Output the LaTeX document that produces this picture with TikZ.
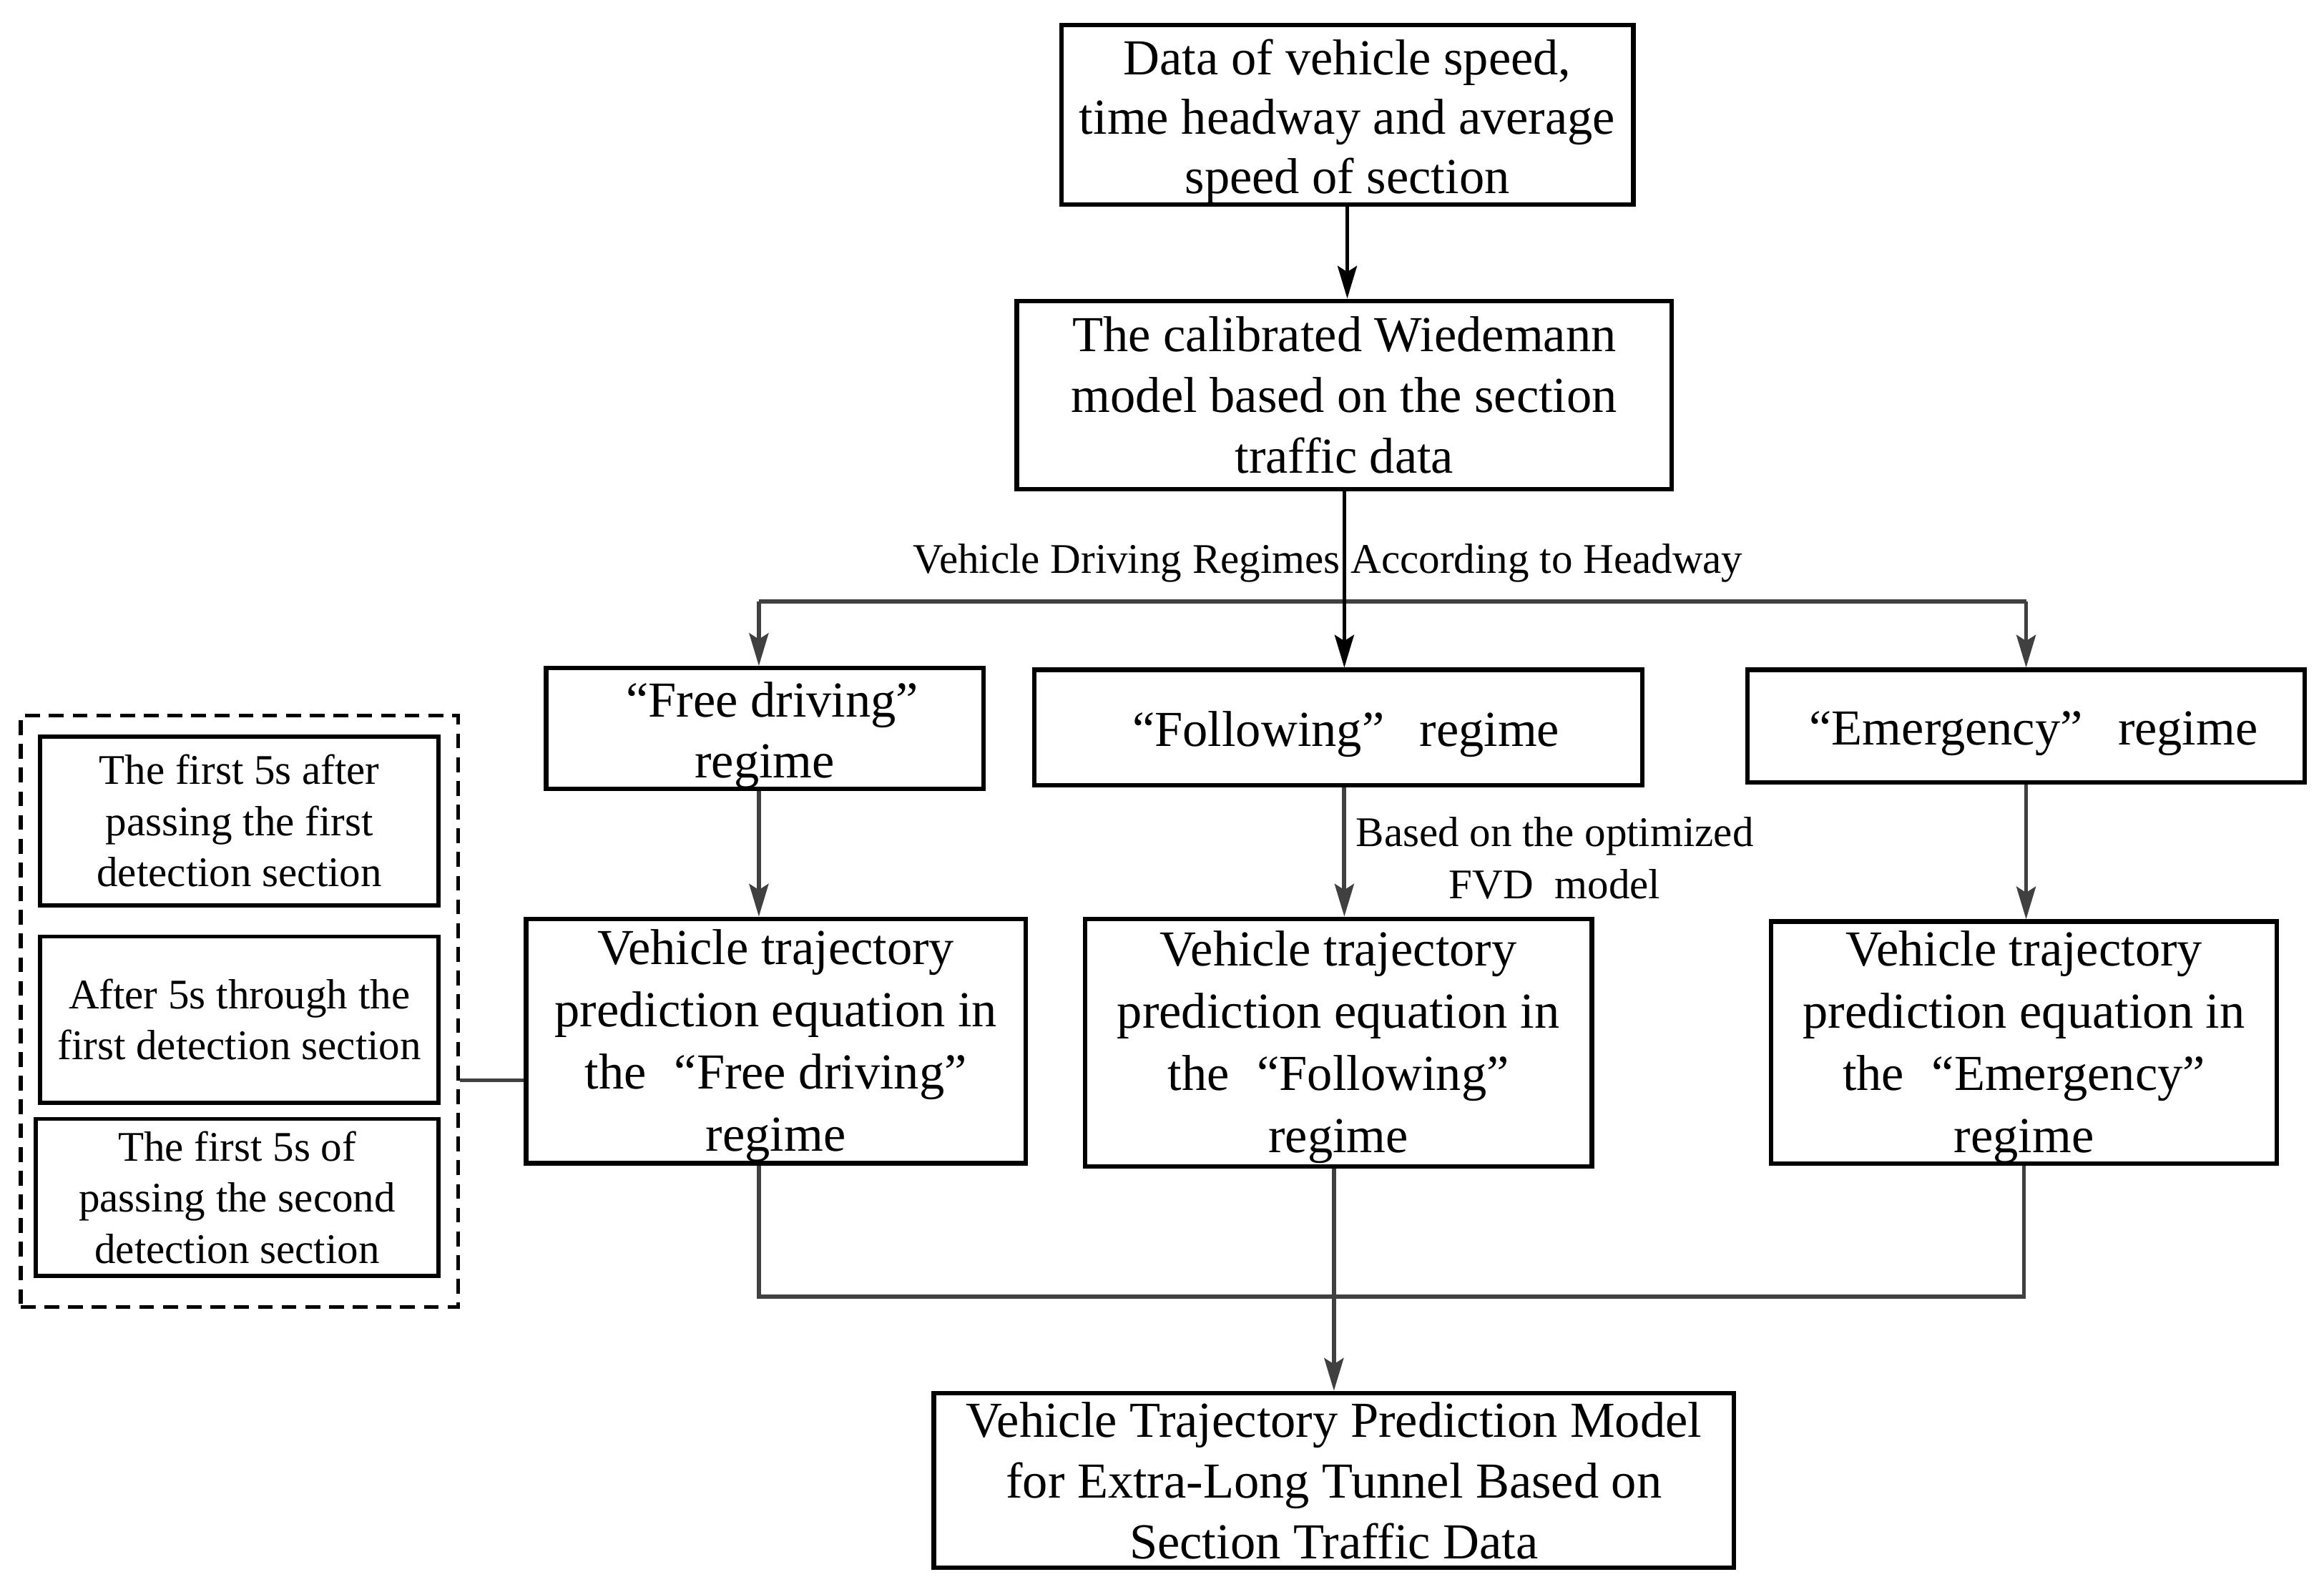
\documentclass[tikz,border=0pt]{standalone}
\usepackage{fontspec}
\setmainfont{Liberation Serif}
\usetikzlibrary{arrows.meta,calc}
\definecolor{ln}{HTML}{404040}
\newcommand{\myoq}{\hspace{0.3em}“}
\newcommand{\mycq}{”\hspace{0.45em}}
\begin{document}
\begin{tikzpicture}[x=1pt,y=-1pt,
  box/.style={draw=black,line width=3pt,align=center,inner sep=0pt,font=\fontsize{34}{41}\selectfont},
  sbox/.style={draw=black,line width=2.8pt,align=center,inner sep=0pt,font=\fontsize{28.5}{34.5}\selectfont},
  dim/.style 2 args={minimum width=#1pt,minimum height=#2pt},
  conn/.style={draw=ln,line width=2.8pt},
  arr/.style={conn,-{Stealth[length=22pt,width=13pt,inset=4pt]}},
  barr/.style={draw=black,line width=2.6pt,-{Stealth[length=22pt,width=13pt,inset=4pt]}},
  lbl/.style={font=\fontsize{28.5}{35}\selectfont,align=center,inner sep=0pt},
  dashbox/.style={draw=black,line width=2.5pt,dash pattern=on 10pt off 6pt}]
\useasboundingbox (0,0) rectangle (1568,1074);
\fill[white] (0,0) rectangle (1568,1074);

% main boxes
\node[box,dim={386}{121},font=\fontsize{34}{40}\selectfont] (top) at (909,77.5) {\rule{0pt}{33pt}Data of vehicle speed,\\time headway and average\\speed of section};
\node[box,dim={442}{127}] (wied) at (907,266.5) {The calibrated Wiedemann\\model based on the section\\traffic data};
\node[box,dim={295}{79}] (free) at (516,491.5) {\rule{0pt}{33pt}\myoq Free driving\mycq\\regime};
\node[box,dim={410}{78}] (foll) at (903,491) {\rule{0pt}{33pt}\myoq Following\mycq{} regime};
\node[box,dim={376}{76}] (emer) at (1367,490) {\rule{0pt}{33pt}\myoq Emergency\mycq{} regime};
\node[box,dim={337}{165},font=\fontsize{34}{42}\selectfont] (vt1) at (523.5,702.5) {\rule{0pt}{30pt}Vehicle trajectory\\prediction equation in\\the \myoq Free driving\mycq\\regime};
\node[box,dim={342}{167},font=\fontsize{34}{42}\selectfont] (vt2) at (903,703.5) {\rule{0pt}{30pt}Vehicle trajectory\\prediction equation in\\the \myoq Following\mycq\\regime};
\node[box,dim={341}{163},font=\fontsize{34}{42}\selectfont] (vt3) at (1365.5,703.5) {\rule{0pt}{30pt}Vehicle trajectory\\prediction equation in\\the \myoq Emergency\mycq\\regime};
\node[box,dim={540}{118}] (fin) at (900,999) {Vehicle Trajectory Prediction Model\\for Extra-Long Tunnel Based on\\Section Traffic Data};

% left dashed group
\node[dashbox,dim={295}{399}] (dash) at (161.5,682.5) {};
\node[sbox,dim={269}{114}] (in1) at (161.5,554) {The first 5s after\\passing the first\\detection section};
\node[sbox,dim={269}{112}] (in2) at (161.5,688) {After 5s through the\\first detection section};
\node[sbox,dim={272}{106}] (in3) at (160,808) {The first 5s of\\passing the second\\detection section};

% labels
\node[lbl] (l1) at (896,380) {Vehicle Driving Regimes According to Headway};
\node[lbl] (l2) at (1049,579) {Based on the optimized\\FVD\ \ model};

% helper coordinates
\coordinate (hb) at (0,406);
\coordinate (jb) at (0,875);
\coordinate (lk) at (0,729);
\coordinate (cx1) at (512,0);

% connectors
\draw[barr] (top.south) -- (top.south |- wied.north);
\draw[conn] (cx1 |- hb) -- (emer.north |- hb);
\draw[arr] (cx1 |- hb) -- (cx1 |- free.north);
\draw[arr] (emer.north |- hb) -- (emer.north);
\draw[barr] (wied.south) -- (wied.south |- foll.north);
\draw[arr] (cx1 |- free.south) -- (cx1 |- vt1.north);
\draw[arr] (wied.south |- foll.south) -- (wied.south |- vt2.north);
\draw[arr] (emer.south) -- (emer.south |- vt3.north);
\draw[conn] (dash.east |- lk) -- (vt1.west |- lk);
\draw[conn] (cx1 |- vt1.south) -- (cx1 |- jb) -- (vt3.south |- jb) -- (vt3.south);
\draw[arr] (fin.north |- vt2.south) -- (fin.north);
\end{tikzpicture}
\end{document}
